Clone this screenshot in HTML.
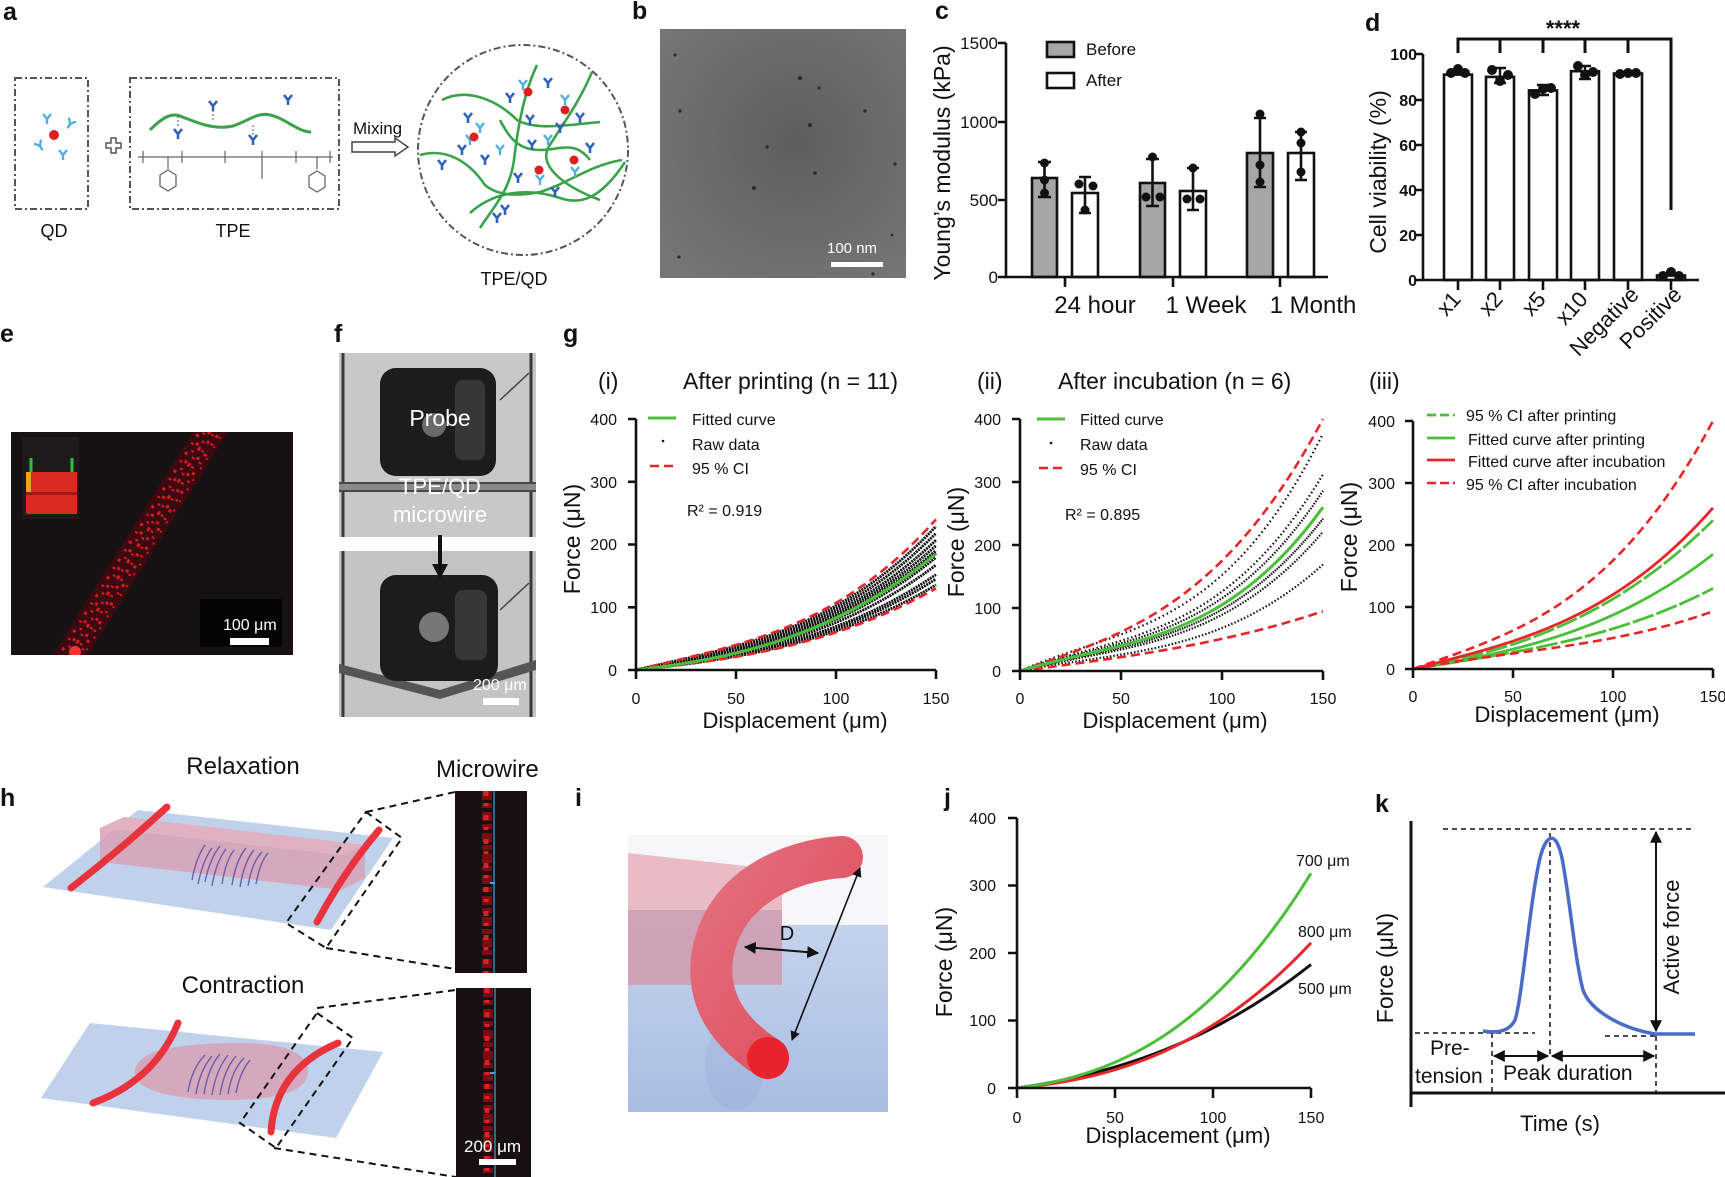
<!DOCTYPE html>
<html>
<head>
<meta charset="utf-8">
<style>
  html,body{margin:0;padding:0;background:#fff;}
  svg{display:block;}
  text{font-family:"Liberation Sans",Arial,sans-serif;fill:#111;}
  .lab{font-weight:bold;font-size:25px;}
  .tk{font-size:16px;}
  .ax{stroke:#111;stroke-width:2.6;fill:none;}
</style>
</head>
<body>
<svg width="1725" height="1177" viewBox="0 0 1725 1177" xmlns="http://www.w3.org/2000/svg">
<defs>
  <marker id="ah" viewBox="0 0 10 10" refX="9" refY="5" markerWidth="6" markerHeight="6" orient="auto-start-reverse"><path d="M0,0 L10,5 L0,10 z" fill="#111"/></marker>
  <radialGradient id="temg" cx="0.55" cy="0.45" r="0.7"><stop offset="0" stop-color="#5e5e5e"/><stop offset="1" stop-color="#767676"/></radialGradient>
  <clipPath id="ce"><rect x="11" y="432" width="282" height="223"/></clipPath>
  <clipPath id="cm1"><rect x="455" y="791" width="72" height="182"/></clipPath>
  <clipPath id="cm2"><rect x="456" y="988" width="75" height="189"/></clipPath>
  <linearGradient id="tube" x1="0" y1="0" x2="1" y2="1"><stop offset="0" stop-color="#e2707e"/><stop offset="1" stop-color="#e04a5a"/></linearGradient>
  <linearGradient id="iblue" x1="0" y1="0" x2="0" y2="1"><stop offset="0" stop-color="#c4d3ec"/><stop offset="1" stop-color="#a9bde2"/></linearGradient>
  <g id="lig"><path d="M-4,-5 L0,0 L4,-5 M0,0 L0,5" stroke="#2f62b8" stroke-width="2.6" fill="none"/></g>
  <g id="lig2"><path d="M-4,-5 L0,0 L4,-5 M0,0 L0,5" stroke="#4fb0de" stroke-width="2.4" fill="none"/></g>
</defs>
<rect width="1725" height="1177" fill="#fff"/>

<!-- ================= Panel a ================= -->
<text class="lab" x="3" y="20">a</text>
<rect x="15" y="78" width="73" height="131" fill="none" stroke="#555" stroke-width="2" stroke-dasharray="7 3 2 3"/>
<circle cx="54" cy="135" r="5" fill="#e02020"/>
<use href="#lig2" x="47" y="119"/><use href="#lig2" x="70" y="124" transform="rotate(30 70 124)"/>
<use href="#lig2" x="40" y="146" transform="rotate(-30 40 146)"/><use href="#lig2" x="63" y="155"/>
<text x="54" y="237" font-size="18" text-anchor="middle">QD</text>
<path d="M106,143 h5 v-5 h5 v5 h5 v5 h-5 v5 h-5 v-5 h-5 z" fill="#fff" stroke="#555" stroke-width="1.5"/>
<rect x="130" y="78" width="209" height="131" fill="none" stroke="#555" stroke-width="2" stroke-dasharray="7 3 2 3"/>
<path d="M150,130 C160,120 170,112 180,116 C200,124 215,130 233,126 C250,120 258,112 270,115 C285,118 298,132 311,132" stroke="#3aa24a" stroke-width="3" fill="none"/>
<use href="#lig" x="213" y="106"/><use href="#lig" x="288" y="100"/>
<use href="#lig" x="178" y="134"/><use href="#lig" x="253" y="140"/>
<path d="M178,116 V128 M213,110 V122 M253,125 V136" stroke="#555" stroke-width="1" stroke-dasharray="2 2"/>
<path d="M138,157 H333 M143,151 v12 M182,151 v12 M225,151 v12 M262,151 v12 M296,151 v12 M330,151 v12 M168,157 v12 M317,157 v12 M262,157 v22" stroke="#666" stroke-width="1.2" fill="none"/>
<polygon points="168,170 176,175 176,186 168,191 160,186 160,175" fill="none" stroke="#666" stroke-width="1.3"/>
<polygon points="317,171 325,176 325,187 317,192 309,187 309,176" fill="none" stroke="#666" stroke-width="1.3"/>
<text x="233" y="237" font-size="18" text-anchor="middle">TPE</text>
<text x="353" y="134" font-size="17">Mixing</text>
<path d="M352,142 H395 V138 L408,147 L395,156 V152 H352 Z" fill="#fff" stroke="#444" stroke-width="1.5"/>
<circle cx="523" cy="150" r="105" fill="none" stroke="#555" stroke-width="2" stroke-dasharray="7 3 2 3"/>
<g stroke="#3aa24a" stroke-width="2.6" fill="none">
  <path d="M442,100 C465,88 495,98 517,120 C535,130 560,126 600,122"/>
  <path d="M420,155 C445,148 468,160 485,185 C500,198 525,195 540,192 C565,185 590,165 622,160"/>
  <path d="M537,65 C525,90 518,125 514,160 C510,190 495,205 480,228"/>
  <path d="M592,72 C578,105 562,125 548,148 C540,165 560,185 600,200"/>
  <path d="M470,213 C495,190 530,188 560,198 C580,205 600,200 625,162"/>
  <path d="M500,120 C510,140 520,150 540,150 C560,150 575,140 590,160"/>
</g>
<g>
  <use href="#lig" x="468" y="118"/><use href="#lig2" x="480" y="128"/><use href="#lig" x="442" y="165"/>
  <use href="#lig" x="510" y="98"/><use href="#lig2" x="523" y="85"/><use href="#lig" x="548" y="83"/>
  <use href="#lig" x="560" y="128"/><use href="#lig2" x="548" y="140"/><use href="#lig" x="580" y="118"/>
  <use href="#lig" x="590" y="148"/><use href="#lig2" x="575" y="172"/><use href="#lig" x="532" y="145"/>
  <use href="#lig" x="485" y="160"/><use href="#lig2" x="500" y="150"/><use href="#lig" x="518" y="178"/>
  <use href="#lig" x="555" y="192"/><use href="#lig2" x="540" y="180"/><use href="#lig" x="505" y="210"/>
  <use href="#lig" x="497" y="218"/><use href="#lig2" x="470" y="140"/><use href="#lig" x="462" y="150"/>
  <use href="#lig2" x="565" y="100"/><use href="#lig" x="530" y="120"/>
</g>
<circle cx="528" cy="92" r="4.5" fill="#e02020"/><circle cx="565" cy="110" r="4.5" fill="#e02020"/>
<circle cx="474" cy="137" r="4.5" fill="#e02020"/><circle cx="539" cy="170" r="4.5" fill="#e02020"/>
<circle cx="574" cy="160" r="4.5" fill="#e02020"/>
<text x="514" y="285" font-size="18" text-anchor="middle">TPE/QD</text>

<!-- ================= Panel b ================= -->
<text class="lab" x="632" y="19">b</text>
<rect x="660" y="29" width="246" height="249" fill="url(#temg)"/>
<g fill="#2a2a2a">
  <circle cx="800" cy="78" r="2.2"/><circle cx="819" cy="88" r="1.6"/><circle cx="810" cy="125" r="2"/>
  <circle cx="680" cy="111" r="1.6"/><circle cx="865" cy="111" r="1.6"/><circle cx="767" cy="147" r="1.6"/>
  <circle cx="815" cy="173" r="1.8"/><circle cx="895" cy="164" r="1.6"/><circle cx="754" cy="188" r="2"/>
  <circle cx="675" cy="55" r="1.5"/><circle cx="679" cy="257" r="1.6"/><circle cx="873" cy="274" r="1.6"/>
  <circle cx="892" cy="235" r="1.4"/>
</g>
<text x="827" y="253" font-size="15" style="fill:#fff">100 nm</text>
<rect x="831" y="262" width="52" height="5" fill="#fff"/>

<!-- ================= Panel c ================= -->
<text class="lab" x="935" y="19">c</text>
<text transform="translate(950,163) rotate(-90)" font-size="23" text-anchor="middle">Young’s modulus (kPa)</text>
<g text-anchor="end" font-size="17">
  <text x="998" y="49">1500</text><text x="998" y="128">1000</text><text x="998" y="206">500</text><text x="998" y="283">0</text>
</g>
<path d="M998,43 H1006 M998,122 H1006 M998,200 H1006 M998,277 H1006" class="ax"/>
<g stroke="#111" stroke-width="2.6">
  <rect x="1032" y="178" width="25" height="99" fill="#a6a6a6"/>
  <rect x="1072" y="193" width="26" height="84" fill="#fff"/>
  <rect x="1140" y="183" width="25" height="94" fill="#a6a6a6"/>
  <rect x="1180" y="191" width="26" height="86" fill="#fff"/>
  <rect x="1247" y="153" width="26" height="124" fill="#a6a6a6"/>
  <rect x="1288" y="153" width="26" height="124" fill="#fff"/>
</g>
<g stroke="#111" stroke-width="2.6" fill="none">
  <path d="M1044.5,162 V197 M1038,162 H1051 M1038,197 H1051"/>
  <path d="M1085,177 V213 M1079,177 H1091 M1079,213 H1091"/>
  <path d="M1152.5,159 V206 M1146,159 H1159 M1146,206 H1159"/>
  <path d="M1193,168 V210 M1187,168 H1199 M1187,210 H1199"/>
  <path d="M1260,118 V187 M1254,118 H1266 M1254,187 H1266"/>
  <path d="M1301,132 V180 M1295,132 H1307 M1295,180 H1307"/>
</g>
<g fill="#111">
  <circle cx="1044.5" cy="163" r="4.5"/><circle cx="1044.5" cy="180" r="4.5"/><circle cx="1044.5" cy="193" r="4.5"/>
  <circle cx="1079" cy="184" r="4.5"/><circle cx="1093" cy="186" r="4.5"/><circle cx="1085" cy="210" r="4.5"/>
  <circle cx="1152.5" cy="157" r="4.5"/><circle cx="1146" cy="197" r="4.5"/><circle cx="1160" cy="197" r="4.5"/>
  <circle cx="1193" cy="168" r="4.5"/><circle cx="1187" cy="199" r="4.5"/><circle cx="1200" cy="199" r="4.5"/>
  <circle cx="1260" cy="114" r="4.5"/><circle cx="1260" cy="165" r="4.5"/><circle cx="1260" cy="182" r="4.5"/>
  <circle cx="1301" cy="132" r="4.5"/><circle cx="1301" cy="143" r="4.5"/><circle cx="1301" cy="172" r="4.5"/>
</g>
<path d="M1006,43 V277 H1328 M1065,277 V287 M1173,277 V287 M1280,277 V287" class="ax"/>
<rect x="1047" y="42" width="27" height="15" fill="#a6a6a6" stroke="#111" stroke-width="2.6"/>
<text x="1086" y="55" font-size="17">Before</text>
<rect x="1047" y="73" width="27" height="15" fill="#fff" stroke="#111" stroke-width="2.6"/>
<text x="1086" y="86" font-size="17">After</text>
<g font-size="24" text-anchor="middle">
  <text x="1095" y="313">24 hour</text><text x="1206" y="313">1 Week</text><text x="1313" y="313">1 Month</text>
</g>

<!-- ================= Panel d ================= -->
<text class="lab" x="1365" y="31">d</text>
<text transform="translate(1386,172) rotate(-90)" font-size="23" text-anchor="middle">Cell viability (%)</text>
<g font-size="16" font-weight="bold" text-anchor="end">
  <text x="1417" y="60">100</text><text x="1417" y="106">80</text><text x="1417" y="151">60</text>
  <text x="1417" y="196">40</text><text x="1417" y="241">20</text><text x="1417" y="286">0</text>
</g>
<path d="M1415,54 H1423 M1415,100 H1423 M1415,145 H1423 M1415,190 H1423 M1415,235 H1423 M1415,280 H1423" class="ax"/>
<g stroke="#111" stroke-width="2.6" fill="#fff">
  <rect x="1444" y="74.6" width="28" height="205.4"/>
  <rect x="1486" y="76.9" width="28" height="203.1"/>
  <rect x="1529" y="90.4" width="28" height="189.6"/>
  <rect x="1571" y="71.2" width="28" height="208.8"/>
  <rect x="1614" y="73.5" width="28" height="206.5"/>
  <rect x="1657" y="275.5" width="28" height="4.5"/>
</g>
<g stroke="#111" stroke-width="2.4" fill="none">
  <path d="M1500,68 V83 M1494,68 H1506 M1494,83 H1506"/>
  <path d="M1543,85 V95 M1537,85 H1549 M1537,95 H1549"/>
  <path d="M1585,66 V79 M1579,66 H1591 M1579,79 H1591"/>
</g>
<g fill="#111">
  <circle cx="1451" cy="73" r="5"/><circle cx="1458" cy="69" r="5"/><circle cx="1465" cy="73" r="5"/>
  <circle cx="1492" cy="70" r="5"/><circle cx="1508" cy="75" r="5"/><circle cx="1500" cy="81" r="5"/>
  <circle cx="1535" cy="94" r="5"/><circle cx="1543" cy="89" r="5"/><circle cx="1551" cy="88" r="5"/>
  <circle cx="1578" cy="66" r="5"/><circle cx="1593" cy="72" r="5"/><circle cx="1585" cy="75" r="5"/>
  <circle cx="1620" cy="74" r="5"/><circle cx="1628" cy="73" r="5"/><circle cx="1636" cy="73" r="5"/>
  <circle cx="1663" cy="276" r="5"/><circle cx="1671" cy="272" r="5"/><circle cx="1679" cy="276" r="5"/>
</g>
<path d="M1423,54 V280 H1699 M1458,280 V290 M1500,280 V290 M1543,280 V290 M1585,280 V290 M1628,280 V290 M1671,280 V290" class="ax"/>
<path d="M1458,53 V39 H1671 V210 M1500,39 V53 M1543,39 V53 M1585,39 V53 M1628,39 V53" stroke="#111" stroke-width="3" fill="none"/>
<text x="1563" y="36" font-size="22" font-weight="bold" text-anchor="middle">****</text>
<g font-size="22" text-anchor="end">
  <text transform="translate(1462,300) rotate(-48)">x1</text>
  <text transform="translate(1504,300) rotate(-48)">x2</text>
  <text transform="translate(1547,300) rotate(-48)">x5</text>
  <text transform="translate(1589,300) rotate(-48)">x10</text>
  <text transform="translate(1640,296) rotate(-45)">Negative</text>
  <text transform="translate(1683,296) rotate(-45)">Positive</text>
</g>

<!-- ================= Panel e ================= -->
<text class="lab" x="0" y="342">e</text>
<rect x="11" y="432" width="282" height="223" fill="#161214"/>
<g clip-path="url(#ce)">
  <path d="M215,425 L66,662" stroke="#3a0a10" stroke-width="30"/>
  <g stroke="#d81a24" stroke-width="3" fill="none">
    <path d="M204,425 L55,662" stroke-dasharray="2 9 3 7"/>
    <path d="M209,425 L60,662" stroke-dasharray="3 6 2 10"/>
    <path d="M214,425 L65,662" stroke-dasharray="2 5 4 8"/>
    <path d="M219,425 L70,662" stroke-dasharray="3 8 2 6"/>
    <path d="M224,425 L75,662" stroke-dasharray="2 10 3 7"/>
    <path d="M228,425 L79,662" stroke-dasharray="2 12 2 9" stroke-width="2"/>
  </g>
  <circle cx="75" cy="652" r="6" fill="#ff3030"/>
</g>
<rect x="22" y="437" width="57" height="82" fill="#1c1a1a"/>
<rect x="26" y="472" width="51" height="42" fill="#d82a20"/>
<rect x="26" y="492" width="51" height="3" fill="#a01818"/>
<rect x="26" y="472" width="5" height="20" fill="#f0a020"/>
<path d="M31,458 v14 M72,458 v14" stroke="#30c040" stroke-width="3"/>
<rect x="200" y="599" width="82" height="48" fill="#050505"/>
<text x="223" y="630" font-size="16" style="fill:#fff">100 μm</text>
<rect x="230" y="638" width="39" height="7" fill="#fff"/>

<!-- ================= Panel f ================= -->
<text class="lab" x="334" y="342">f</text>
<rect x="339" y="353" width="197" height="184" fill="#c8c8c8"/>
<path d="M343,353 V537 M531,353 V537" stroke="#3a3a3a" stroke-width="3"/>
<rect x="339" y="482" width="197" height="10" fill="#8a8a8a"/>
<path d="M339,483 H536 M339,491 H536" stroke="#333" stroke-width="1.5"/>
<path d="M500,400 L529,373" stroke="#444" stroke-width="1.5"/>
<rect x="380" y="368" width="116" height="108" rx="16" fill="#1c1c1c"/>
<rect x="455" y="380" width="30" height="80" rx="8" fill="#4a4a4a" opacity="0.6"/>
<circle cx="434" cy="425" r="12" fill="#6a6a6a"/>
<text x="440" y="426" font-size="23" text-anchor="middle" style="fill:#fff">Probe</text>
<text x="440" y="494" font-size="22" text-anchor="middle" style="fill:#fff">TPE/QD</text>
<text x="440" y="522" font-size="22" text-anchor="middle" style="fill:#fff">microwire</text>
<rect x="339" y="551" width="197" height="166" fill="#c4c4c4"/>
<path d="M343,551 V717 M531,551 V717" stroke="#3a3a3a" stroke-width="3"/>
<path d="M339,664 L440,690 L536,660 L536,670 L440,699 L339,673 Z" fill="#555"/>
<path d="M500,610 L529,583" stroke="#444" stroke-width="1.5"/>
<rect x="380" y="575" width="118" height="106" rx="16" fill="#1c1c1c"/>
<rect x="455" y="590" width="32" height="70" rx="8" fill="#4a4a4a" opacity="0.6"/>
<circle cx="434" cy="627" r="15" fill="#777"/>
<text x="473" y="690" font-size="16" style="fill:#fff">200 μm</text>
<rect x="483" y="698" width="36" height="7" fill="#fff"/>
<path d="M440,535 V566" stroke="#111" stroke-width="4"/>
<path d="M432,564 L448,564 L440,579 Z" fill="#111"/>

<!-- ================= Panel g ================= -->
<text class="lab" x="563" y="342">g</text>
<!-- (i) -->
<text x="598" y="389" font-size="23">(i)</text>
<text x="683" y="389" font-size="23">After printing (n = 11)</text>
<text transform="translate(580,539) rotate(-90)" font-size="23" text-anchor="middle">Force (μN)</text>
<g class="tk" text-anchor="end">
  <text x="617" y="425">400</text><text x="617" y="488">300</text><text x="617" y="550">200</text><text x="617" y="613">100</text><text x="617" y="676">0</text>
</g>
<g class="tk" text-anchor="middle">
  <text x="636" y="704">0</text><text x="736" y="704">50</text><text x="836" y="704">100</text><text x="936" y="704">150</text>
</g>
<text x="795" y="728" font-size="22" text-anchor="middle">Displacement (μm)</text>
<g stroke="#111" stroke-width="2.8" stroke-dasharray="2 0.8" fill="none">
  <path d="M636 670 C736 659.0 836 644.1 936 585.0"/>
  <path d="M636 670 C736 657.8 836 643.0 936 579.0"/>
  <path d="M636 670 C736 656.8 836 642.2 936 574.6"/>
  <path d="M636 670 C736 653.2 836 638.9 936 557.4"/>
  <path d="M636 670 C736 651.7 836 637.6 936 550.5"/>
  <path d="M636 670 C736 650.7 836 636.7 936 545.6"/>
  <path d="M636 670 C736 649.6 836 635.6 936 540.1"/>
  <path d="M636 670 C736 648.1 836 634.3 936 533.2"/>
  <path d="M636 670 C736 646.6 836 633.0 936 526.3"/>
  <path d="M636 670 C736 652.5 836 638.0 936 553.0"/>
  <path d="M636 670 C736 655 836 640.5 936 565.0"/>
</g>
<path d="M636 670 C736 645.2 836 631.7 936 519.4" stroke="#e8262a" stroke-width="2.6" stroke-dasharray="9 5" fill="none"/>
<path d="M636 670 C736 659.7 836 644.8 936 588.4" stroke="#e8262a" stroke-width="2.6" stroke-dasharray="9 5" fill="none"/>
<path d="M636 670 C736 658.6 836 635.9 936 553.9" stroke="#4cbf3a" stroke-width="3" fill="none"/>
<path d="M636,419 V670 H936 M628,419 H636 M628,481.8 H636 M628,544.5 H636 M628,607.3 H636 M628,670 H636 M636,670 V679 M736,670 V679 M836,670 V679 M936,670 V679" class="ax"/>
<path d="M648,418 H676" stroke="#4cbf3a" stroke-width="3"/>
<text x="692" y="425" font-size="16">Fitted curve</text>
<circle cx="663" cy="441" r="1.3" fill="#111"/>
<text x="692" y="450" font-size="16">Raw data</text>
<path d="M650,466 H678" stroke="#e8262a" stroke-width="2.6" stroke-dasharray="9 5"/>
<text x="692" y="474" font-size="16">95 % CI</text>
<text x="687" y="516" font-size="16">R² = 0.919</text>

<!-- (ii) -->
<text x="977" y="389" font-size="23">(ii)</text>
<text x="1058" y="389" font-size="23">After incubation (n = 6)</text>
<text transform="translate(964,542) rotate(-90)" font-size="23" text-anchor="middle">Force (μN)</text>
<g class="tk" text-anchor="end">
  <text x="1001" y="425">400</text><text x="1001" y="488">300</text><text x="1001" y="551">200</text><text x="1001" y="614">100</text><text x="1001" y="677">0</text>
</g>
<g class="tk" text-anchor="middle">
  <text x="1020" y="704">0</text><text x="1121" y="704">50</text><text x="1222" y="704">100</text><text x="1323" y="704">150</text>
</g>
<text x="1175" y="728" font-size="22" text-anchor="middle">Displacement (μm)</text>
<g stroke="#111" stroke-width="2.2" fill="none">
  <path d="M1020 671 C1121 626 1222 635.9 1323 433.5" stroke-dasharray="1.5 3"/>
  <path d="M1020 671 C1121 633.8 1222 642 1323 474.4" stroke-dasharray="1.5 2.5"/>
  <path d="M1020 671 C1121 636.9 1222 644.4 1323 490.8" stroke-dasharray="1.5 1.5"/>
  <path d="M1020 671 C1121 642.2 1222 648.5 1323 518.7" stroke-dasharray="1.5 1"/>
  <path d="M1020 671 C1121 644.6 1222 650.4 1323 531.8" stroke-dasharray="1.5 1.5"/>
  <path d="M1020 671 C1121 650.8 1222 655.3 1323 564.5" stroke-dasharray="1.5 2"/>
</g>
<path d="M1020 671 C1121 635.2 1222 608.8 1323 419" stroke="#e8262a" stroke-width="2.6" stroke-dasharray="9 5" fill="none"/>
<path d="M1020 671 C1121 657.6 1222 645.2 1323 611.2" stroke="#e8262a" stroke-width="2.6" stroke-dasharray="9 5" fill="none"/>
<path d="M1020 671 C1121 640 1222 646.8 1323 507.2" stroke="#4cbf3a" stroke-width="3" fill="none"/>
<path d="M1020,419 V671 H1323 M1012,419 H1020 M1012,482 H1020 M1012,545 H1020 M1012,608 H1020 M1012,671 H1020 M1020,671 V680 M1121,671 V680 M1222,671 V680 M1323,671 V680" class="ax"/>
<path d="M1037,419 H1065" stroke="#4cbf3a" stroke-width="3"/>
<text x="1080" y="425" font-size="16">Fitted curve</text>
<circle cx="1051" cy="443" r="1.3" fill="#111"/>
<text x="1080" y="450" font-size="16">Raw data</text>
<path d="M1039,468 H1067" stroke="#e8262a" stroke-width="2.6" stroke-dasharray="9 5"/>
<text x="1080" y="475" font-size="16">95 % CI</text>
<text x="1065" y="520" font-size="16">R² = 0.895</text>

<!-- (iii) -->
<text x="1369" y="389" font-size="23">(iii)</text>
<text transform="translate(1357,537) rotate(-90)" font-size="23" text-anchor="middle">Force (μN)</text>
<g class="tk" text-anchor="end">
  <text x="1395" y="427">400</text><text x="1395" y="489">300</text><text x="1395" y="551">200</text><text x="1395" y="613">100</text><text x="1395" y="675">0</text>
</g>
<g class="tk" text-anchor="middle">
  <text x="1413" y="702">0</text><text x="1513" y="702">50</text><text x="1613" y="702">100</text><text x="1713" y="702">150</text>
</g>
<text x="1567" y="722" font-size="22" text-anchor="middle">Displacement (μm)</text>
<path d="M1413 669 C1513 650.1 1613 620 1713 520.2" stroke="#4cbf3a" stroke-width="2.8" stroke-dasharray="22 3" fill="none"/>
<path d="M1413 669 C1513 652.4 1613 640.4 1713 588.4" stroke="#4cbf3a" stroke-width="2.8" stroke-dasharray="22 3" fill="none"/>
<path d="M1413 669 C1513 652.2 1613 632.5 1713 554.3" stroke="#4cbf3a" stroke-width="2.8" fill="none"/>
<path d="M1413 669 C1513 643.2 1613 622 1713 507.8" stroke="#e8262a" stroke-width="2.8" fill="none"/>
<path d="M1413 669 C1513 633.7 1613 607.8 1713 421" stroke="#e8262a" stroke-width="2.6" stroke-dasharray="9 5" fill="none"/>
<path d="M1413 669 C1513 649.8 1613 647.3 1713 611.3" stroke="#e8262a" stroke-width="2.6" stroke-dasharray="9 5" fill="none"/>
<path d="M1413,421 V669 H1713 M1405,421 H1413 M1405,483 H1413 M1405,545 H1413 M1405,607 H1413 M1405,669 H1413 M1413,669 V678 M1513,669 V678 M1613,669 V678 M1713,669 V678" class="ax"/>
<path d="M1427,415 H1455" stroke="#4cbf3a" stroke-width="2.8" stroke-dasharray="9 4"/>
<text x="1466" y="421" font-size="16">95 % CI after printing</text>
<path d="M1427,438 H1455" stroke="#4cbf3a" stroke-width="2.8"/>
<text x="1468" y="445" font-size="16">Fitted curve after printing</text>
<path d="M1427,460 H1455" stroke="#e8262a" stroke-width="2.8"/>
<text x="1468" y="467" font-size="16">Fitted curve after incubation</text>
<path d="M1427,483 H1455" stroke="#e8262a" stroke-width="2.6" stroke-dasharray="9 4"/>
<text x="1466" y="490" font-size="16">95 % CI after incubation</text>

<!-- ================= Panel h ================= -->
<text class="lab" x="0" y="806">h</text>
<text x="243" y="774" font-size="24" text-anchor="middle">Relaxation</text>
<text x="436" y="777" font-size="24">Microwire</text>
<text x="243" y="993" font-size="24" text-anchor="middle">Contraction</text>
<polygon points="43,887 138,810 393,838 331,930" fill="#b9cce9" opacity="0.9"/>
<polygon points="100,828 124,817 365,845 365,878 342,890 100,862" fill="#d7a2b6" opacity="0.85"/>
<polygon points="100,828 124,817 365,845 342,855" fill="#e2b3c2" opacity="0.8"/>
<g stroke="#5b4fa6" stroke-width="1.4" fill="none" opacity="0.85">
  <path d="M192,880 Q196,858 205,845"/><path d="M198,884 Q203,860 212,848"/><path d="M205,882 Q210,858 220,846"/>
  <path d="M212,886 Q216,862 226,849"/><path d="M232,885 Q236,860 246,848"/><path d="M240,887 Q244,862 254,850"/>
  <path d="M248,886 Q252,862 262,852"/><path d="M256,884 Q260,862 268,853"/><path d="M222,884 Q226,860 234,850"/>
</g>
<path d="M71,888 Q120,850 167,807" stroke="#e8323c" stroke-width="7" stroke-linecap="round" fill="none"/>
<path d="M317,922 Q345,870 379,830" stroke="#e8323c" stroke-width="7" stroke-linecap="round" fill="none"/>
<polygon points="366,812 402,838 326,948 286,923" fill="none" stroke="#111" stroke-width="2" stroke-dasharray="7 5"/>
<path d="M366,812 L455,792 M326,948 L455,969" stroke="#111" stroke-width="2" stroke-dasharray="7 5"/>
<rect x="455" y="791" width="72" height="182" fill="#170f12"/>
<g clip-path="url(#cm1)">
  <path d="M487,791 V973" stroke="#7a0c14" stroke-width="10" stroke-dasharray="9 3 5 4"/>
  <path d="M486,791 V973" stroke="#d8222a" stroke-width="5" stroke-dasharray="5 7 3 9"/>
  <path d="M494,791 V973" stroke="#3aa8e0" stroke-width="1.2"/>
  <path d="M490,883 H495" stroke="#3aa8e0" stroke-width="2"/>
</g>
<polygon points="41,1098 90,1023 383,1052 336,1138" fill="#b9cce9" opacity="0.9"/>
<path d="M135,1070 C140,1050 170,1045 230,1043 C280,1042 305,1050 308,1070 C310,1090 280,1100 230,1100 C170,1100 132,1090 135,1070 Z" fill="#d7a2b6" opacity="0.85"/>
<g stroke="#5b4fa6" stroke-width="1.4" fill="none" opacity="0.85">
  <path d="M188,1092 Q192,1068 205,1055"/><path d="M196,1094 Q200,1070 212,1056"/><path d="M204,1094 Q208,1068 220,1054"/>
  <path d="M212,1095 Q216,1070 228,1055"/><path d="M220,1095 Q224,1070 236,1056"/><path d="M228,1094 Q232,1070 244,1058"/>
  <path d="M236,1093 Q240,1072 250,1060"/>
</g>
<path d="M93,1103 Q155,1080 178,1023" stroke="#e8323c" stroke-width="7" stroke-linecap="round" fill="none"/>
<path d="M271,1132 Q275,1070 338,1043" stroke="#e8323c" stroke-width="7" stroke-linecap="round" fill="none"/>
<polygon points="317,1013 353,1038 276,1148 240,1123" fill="none" stroke="#111" stroke-width="2" stroke-dasharray="7 5"/>
<path d="M317,1008 L456,990 M274,1148 L456,1177" stroke="#111" stroke-width="2" stroke-dasharray="7 5"/>
<rect x="456" y="988" width="75" height="189" fill="#170f12"/>
<g clip-path="url(#cm2)">
  <path d="M488,988 V1177" stroke="#7a0c14" stroke-width="10" stroke-dasharray="9 3 5 4"/>
  <path d="M487,988 V1177" stroke="#d8222a" stroke-width="5" stroke-dasharray="5 7 3 9"/>
  <path d="M495,988 V1177" stroke="#3aa8e0" stroke-width="1.2"/>
  <path d="M490,1073 H495" stroke="#3aa8e0" stroke-width="2"/>
</g>
<text x="464" y="1152" font-size="17" style="fill:#fff">200 μm</text>
<rect x="479" y="1159" width="37" height="6" fill="#fff"/>

<!-- ================= Panel i ================= -->
<text class="lab" x="575" y="806">i</text>
<rect x="628" y="835" width="260" height="277" fill="#f6f6f8"/>
<rect x="628" y="925" width="260" height="187" fill="url(#iblue)"/>
<polygon points="628,853 782,870 782,985 628,985" fill="#e6b1bc" opacity="0.85"/>
<polygon points="628,910 782,910 782,985 628,985" fill="#c99db4" opacity="0.8"/>
<ellipse cx="735" cy="1065" rx="30" ry="45" fill="#8fa4d4" opacity="0.25"/>
<path d="M842,857 C790,860 722,888 712,958 C706,1010 740,1040 768,1058" stroke="url(#tube)" stroke-width="42" stroke-linecap="round" fill="none"/>
<circle cx="768" cy="1058" r="21" fill="#e8222e"/>
<path d="M745,947 L818,953" stroke="#111" stroke-width="2" marker-start="url(#ah)" marker-end="url(#ah)"/>
<path d="M860,868 L792,1040" stroke="#111" stroke-width="1.6" marker-start="url(#ah)" marker-end="url(#ah)"/>
<text x="787" y="940" font-size="20" text-anchor="middle">D</text>

<!-- ================= Panel j ================= -->
<text class="lab" x="944" y="806">j</text>
<text transform="translate(952,962) rotate(-90)" font-size="23" text-anchor="middle">Force (μN)</text>
<g class="tk" text-anchor="end">
  <text x="996" y="824">400</text><text x="996" y="891">300</text><text x="996" y="959">200</text><text x="996" y="1026">100</text><text x="996" y="1094">0</text>
</g>
<g class="tk" text-anchor="middle">
  <text x="1017" y="1123">0</text><text x="1115" y="1123">50</text><text x="1213" y="1123">100</text><text x="1311" y="1123">150</text>
</g>
<text x="1178" y="1143" font-size="22" text-anchor="middle">Displacement (μm)</text>
<path d="M1017 1088 C1115 1074.2 1213 1042.1 1311 964.5" stroke="#111" stroke-width="3" fill="none"/>
<path d="M1017 1088 C1115 1079.1 1213 1047.9 1311 942.9" stroke="#e8262a" stroke-width="3" fill="none"/>
<path d="M1017 1088 C1115 1076.2 1213 1032 1311 873.3" stroke="#4cbf3a" stroke-width="3" fill="none"/>
<path d="M1017,818 V1088 H1311 M1008,818 H1017 M1008,885.5 H1017 M1008,953 H1017 M1008,1020.5 H1017 M1008,1088 H1017 M1017,1088 V1098 M1115,1088 V1098 M1213,1088 V1098 M1311,1088 V1098" class="ax"/>
<text x="1296" y="866" font-size="16">700 μm</text>
<text x="1298" y="937" font-size="16">800 μm</text>
<text x="1298" y="994" font-size="16">500 μm</text>

<!-- ================= Panel k ================= -->
<text class="lab" x="1375" y="812">k</text>
<text transform="translate(1393,968) rotate(-90)" font-size="23" text-anchor="middle">Force (μN)</text>
<path d="M1411,821 V1107 M1411,1093 H1725" stroke="#111" stroke-width="3" fill="none"/>
<g stroke="#111" stroke-width="1.5" stroke-dasharray="5 4" fill="none">
  <path d="M1443,829 H1695"/>
  <path d="M1415,1033 H1535"/>
  <path d="M1605,1036 H1655"/>
  <path d="M1492,1033 V1093"/>
  <path d="M1550,833 V1056"/>
  <path d="M1656,1036 V1093"/>
</g>
<path d="M1483,1031 C1500,1034 1510,1030 1515,1020 C1522,1000 1530,900 1540,858 C1545,838 1555,826 1562,858 C1570,900 1575,960 1583,990 C1590,1010 1620,1028 1655,1034 L1695,1034" stroke="#4a6cc8" stroke-width="3.5" fill="none"/>
<path d="M1656,832 V1031" stroke="#111" stroke-width="2" marker-start="url(#ah)" marker-end="url(#ah)"/>
<path d="M1494,1056 H1548" stroke="#111" stroke-width="2" marker-start="url(#ah)" marker-end="url(#ah)"/>
<path d="M1552,1056 H1654" stroke="#111" stroke-width="2" marker-start="url(#ah)" marker-end="url(#ah)"/>
<text transform="translate(1679,937) rotate(-90)" font-size="22" text-anchor="middle">Active force</text>
<text x="1430" y="1055" font-size="21">Pre-</text>
<text x="1415" y="1083" font-size="21">tension</text>
<text x="1503" y="1080" font-size="21">Peak duration</text>
<text x="1560" y="1131" font-size="22" text-anchor="middle">Time (s)</text>
</svg>
</body>
</html>
